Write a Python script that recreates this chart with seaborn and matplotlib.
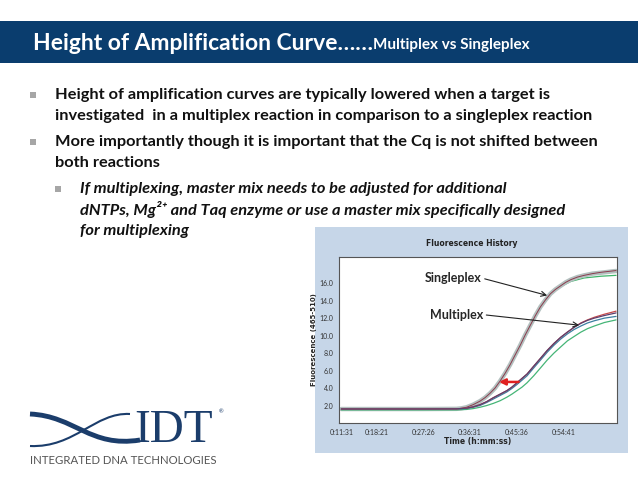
import numpy as np
import pandas as pd
import seaborn as sns
import matplotlib.pyplot as plt
from matplotlib.patches import Rectangle, PathPatch
from matplotlib.path import Path

# time in seconds, fluorescence
t_single = [691, 1101, 1646, 2034, 2093, 2152, 2230, 2309, 2368, 2426, 2485, 2544, 2603, 2662, 2720,
            2779, 2838, 2897, 2956, 3015, 3074, 3132, 3191, 3250, 3309, 3368, 3446, 3525, 3623, 3721, 3897]
single_gray = [1.6, 1.6, 1.6, 1.62, 1.68, 1.8, 2.1, 2.5, 2.9, 3.4, 4.0, 4.8, 5.7, 6.7, 7.8,
               8.9, 10.1, 11.2, 12.3, 13.3, 14.1, 14.8, 15.3, 15.7, 16.1, 16.4, 16.7, 16.9, 17.1, 17.2, 17.4]
single_red = [1.6, 1.6, 1.6, 1.62, 1.68, 1.8, 2.1, 2.5, 2.9, 3.4, 4.0, 4.8, 5.7, 6.7, 7.8,
              8.9, 10.1, 11.2, 12.3, 13.3, 14.1, 14.8, 15.3, 15.7, 16.1, 16.4, 16.7, 16.9, 17.1, 17.25, 17.45]
single_green = [1.5, 1.5, 1.5, 1.55, 1.62, 1.75, 2.05, 2.4, 2.8, 3.3, 3.9, 4.7, 5.6, 6.6, 7.7,
                8.8, 10.0, 11.1, 12.2, 13.2, 14.0, 14.7, 15.2, 15.6, 15.9, 16.2, 16.4, 16.6, 16.7, 16.8, 16.9]

t_multi = [691, 1101, 1646, 2034, 2152, 2230, 2309, 2388, 2466, 2544, 2622, 2681, 2740, 2799, 2858, 2936,
           3015, 3093, 3172, 3250, 3329, 3407, 3486, 3564, 3643, 3760, 3897]
multi_purple = [1.6, 1.6, 1.6, 1.62, 1.7, 1.85, 2.1, 2.45, 2.9, 3.3, 3.7, 4.1, 4.6, 5.1, 5.6, 6.5,
                7.4, 8.3, 9.1, 9.8, 10.4, 10.95, 11.4, 11.75, 12.0, 12.3, 12.6]
multi_red = [1.6, 1.6, 1.6, 1.62, 1.7, 1.85, 2.1, 2.45, 2.9, 3.3, 3.7, 4.1, 4.6, 5.1, 5.6, 6.5,
             7.4, 8.3, 9.1, 9.8, 10.4, 10.95, 11.45, 11.8, 12.1, 12.45, 12.8]
multi_teal = [1.6, 1.6, 1.6, 1.6, 1.66, 1.8, 2.0, 2.35, 2.75, 3.15, 3.55, 3.95, 4.4, 4.9, 5.4, 6.3,
              7.2, 8.1, 8.9, 9.6, 10.2, 10.7, 11.1, 11.45, 11.7, 12.0, 12.2]
multi_green = [1.5, 1.5, 1.5, 1.5, 1.55, 1.65, 1.8, 2.0, 2.25, 2.55, 2.95, 3.3, 3.7, 4.1, 4.6, 5.4,
               6.3, 7.2, 8.0, 8.7, 9.4, 9.9, 10.4, 10.8, 11.1, 11.5, 11.8]

x_ticks = [691, 1101, 1646, 2191, 2736, 3281]
x_labels = ["0:11:31", "0:18:21", "0:27:26", "0:36:31", "0:45:36", "0:54:41"]
y_ticks = [2, 4, 6, 8, 10, 12, 14, 16]

curves = [
    ("single_green", t_single, single_green, "#3fb56b", 0.9),
    ("single_gray", t_single, single_gray, "#b3c0bf", 3.2),
    ("single_red", t_single, single_red, "#8a3b4c", 0.7),
    ("multi_green", t_multi, multi_green, "#45b577", 0.9),
    ("multi_teal", t_multi, multi_teal, "#3b7fa0", 0.9),
    ("multi_red", t_multi, multi_red, "#c84a4a", 0.9),
    ("multi_purple", t_multi, multi_purple, "#5b3f6e", 0.9),
]

sns.set_style("white")
plt.rcParams['font.family'] = ['Lato', 'DejaVu Sans']

fig = plt.figure(figsize=(6.38, 4.78), dpi=100)
W, H = 638, 478

def fx(x):
    return x / W

def fy(y):
    return 1 - y / H

def box(x0, y0, x1, y1, color):
    fig.patches.append(Rectangle((fx(x0), fy(y1)), (x1 - x0) / W, (y1 - y0) / H,
                                 transform=fig.transFigure, facecolor=color,
                                 edgecolor="none", zorder=-5))

# title bar
box(0, 21, 638, 63, "#0a3d6e")
fig.text(fx(33), fy(43), "Height of Amplification Curve……", color="white",
         fontsize=16.5, fontweight="bold", va="center")
fig.text(fx(373), fy(45), "Multiplex vs Singleplex", color="white",
         fontsize=11, fontweight="bold", va="center")

# bullets
bullet_lines = [
    (55, 95, "Height of amplification curves are typically lowered when a target is", "normal"),
    (55, 116, "investigated  in a multiplex reaction in comparison to a singleplex reaction", "normal"),
    (55, 142, "More importantly though it is important that the Cq is not shifted between", "normal"),
    (55, 163, "both reactions", "normal"),
    (80, 189, "If multiplexing, master mix needs to be adjusted for additional", "italic"),
    (80, 210, "dNTPs, Mg²⁺ and Taq enzyme or use a master mix specifically designed", "italic"),
    (80, 231, "for multiplexing", "italic"),
]
for x, y, s, st in bullet_lines:
    fig.text(fx(x), fy(y), s, fontsize=11.8, fontweight="bold", style=st,
             color="#111111", va="center")
for x, y in [(33, 95), (33, 142), (58, 189)]:
    box(x - 3, y - 3, x + 3, y + 3, "#a6a6a6")

# chart panel background
box(315, 227, 628, 453, "#c6d6e8")
fig.text(fx(472), fy(243), "Fluorescence History", fontsize=5.5, fontweight="bold",
         ha="center", va="center", color="#222222", family="DejaVu Sans")

ax = fig.add_axes([fx(339), fy(423), (617 - 339) / W, (423 - 257) / H])
ax.set_zorder(2)
ax.set_facecolor("white")
for name, t, v, c, lw in curves:
    df = pd.DataFrame({"time": t, "fluor": v})
    sns.lineplot(data=df, x="time", y="fluor", ax=ax, color=c, linewidth=lw)

ax.set_xlim(664, 3908)
ax.set_ylim(0, 19)
ax.set_xticks(x_ticks)
ax.set_xticklabels(x_labels)
ax.set_yticks(y_ticks)
ax.set_yticklabels([f"{v:.1f}" for v in y_ticks])
ax.tick_params(labelsize=5, colors="#333333", length=2, pad=2)
ax.set_xlabel("Time (h:mm:ss)", fontsize=5.5, fontweight="bold", labelpad=1,
              family="DejaVu Sans")
ax.set_ylabel("Fluorescence (465-510)", fontsize=5, fontweight="bold", labelpad=2,
              family="DejaVu Sans")
for sp in ax.spines.values():
    sp.set_color("#555555")
    sp.set_linewidth(0.8)

# annotations
ax.annotate("Singleplex", xy=(3093, 14.6), xytext=(1995, 16.6), fontsize=9,
            fontweight="bold", ha="center", va="center",
            arrowprops=dict(arrowstyle="->", color="#222222", lw=0.8,
                            shrinkA=0, shrinkB=0, relpos=(1, 0.5)))
ax.annotate("Multiplex", xy=(3466, 11.2), xytext=(2034, 12.4), fontsize=9,
            fontweight="bold", ha="center", va="center",
            arrowprops=dict(arrowstyle="->", color="#222222", lw=0.8,
                            shrinkA=0, shrinkB=0, relpos=(1, 0.5)))
ax.annotate("", xy=(2531, 4.7), xytext=(2760, 4.7),
            arrowprops=dict(arrowstyle="-|>", color="#e02020", lw=1.8,
                            mutation_scale=9, shrinkA=0, shrinkB=0))

# IDT logo
navy = "#1b3d6b"
helix1 = Path([(fx(30), fy(414)), (fx(75), fy(416)), (fx(90), fy(448)), (fx(140), fy(440))],
              [Path.MOVETO, Path.CURVE4, Path.CURVE4, Path.CURVE4])
helix2 = Path([(fx(30), fy(446)), (fx(75), fy(448)), (fx(95), fy(412)), (fx(130), fy(414))],
              [Path.MOVETO, Path.CURVE4, Path.CURVE4, Path.CURVE4])
fig.patches.append(PathPatch(helix1, transform=fig.transFigure, facecolor="none",
                             edgecolor=navy, lw=3.5))
fig.patches.append(PathPatch(helix2, transform=fig.transFigure, facecolor="none",
                             edgecolor=navy, lw=1.5))
fig.text(fx(134), fy(431), "IDT", fontsize=34, color=navy, va="center",
         family="Liberation Serif")
fig.text(fx(219), fy(412), "®", fontsize=4, color=navy, va="center")
fig.text(fx(30), fy(460), "INTEGRATED DNA TECHNOLOGIES", fontsize=8.2,
         color="#555555", va="center")

fig.savefig("out.png", dpi=100)
